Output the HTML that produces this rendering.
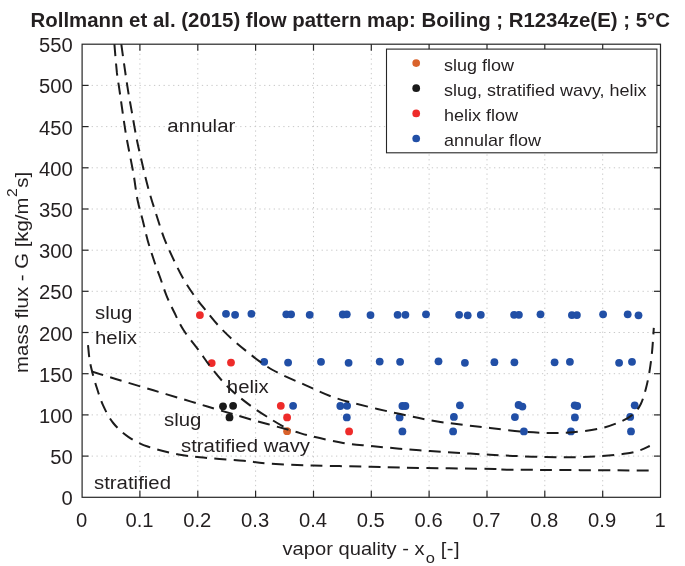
<!DOCTYPE html><html><head><meta charset="utf-8"><title>Rollmann flow pattern map</title>
<style>html,body{margin:0;padding:0;background:#fff}svg{display:block}text{font-family:"Liberation Sans",Arial,Helvetica,sans-serif;fill:#231f20}</style></head><body>
<svg width="685" height="566" viewBox="0 0 685 566">
<rect width="685" height="566" fill="#fff"/>
<g stroke="#c8c8c8" stroke-width="1" stroke-dasharray="1.3 3.49" fill="none">
<line x1="139.9" y1="44.2" x2="139.9" y2="497.3"/>
<line x1="197.8" y1="44.2" x2="197.8" y2="497.3"/>
<line x1="255.6" y1="44.2" x2="255.6" y2="497.3"/>
<line x1="313.5" y1="44.2" x2="313.5" y2="497.3"/>
<line x1="371.3" y1="44.2" x2="371.3" y2="497.3"/>
<line x1="429.1" y1="44.2" x2="429.1" y2="497.3"/>
<line x1="487.0" y1="44.2" x2="487.0" y2="497.3"/>
<line x1="544.8" y1="44.2" x2="544.8" y2="497.3"/>
<line x1="602.7" y1="44.2" x2="602.7" y2="497.3"/>
<line x1="82.1" y1="456.1" x2="660.5" y2="456.1"/>
<line x1="82.1" y1="414.9" x2="660.5" y2="414.9"/>
<line x1="82.1" y1="373.7" x2="660.5" y2="373.7"/>
<line x1="82.1" y1="332.5" x2="660.5" y2="332.5"/>
<line x1="82.1" y1="291.3" x2="660.5" y2="291.3"/>
<line x1="82.1" y1="250.2" x2="660.5" y2="250.2"/>
<line x1="82.1" y1="209.0" x2="660.5" y2="209.0"/>
<line x1="82.1" y1="167.8" x2="660.5" y2="167.8"/>
<line x1="82.1" y1="126.6" x2="660.5" y2="126.6"/>
<line x1="82.1" y1="85.4" x2="660.5" y2="85.4"/>
</g>
<g fill="#d9622b">
<circle cx="287.1" cy="431.2" r="3.9"/>
</g>
<g fill="#1a1a1a">
<circle cx="223.0" cy="406.3" r="3.9"/>
<circle cx="233.1" cy="405.8" r="3.9"/>
<circle cx="229.5" cy="417.4" r="3.9"/>
</g>
<g fill="#ee2b2a">
<circle cx="199.9" cy="315.1" r="3.9"/>
<circle cx="211.7" cy="363.1" r="3.9"/>
<circle cx="231.0" cy="362.6" r="3.9"/>
<circle cx="280.8" cy="405.8" r="3.9"/>
<circle cx="287.1" cy="417.4" r="3.9"/>
<circle cx="349.1" cy="431.4" r="3.9"/>
</g>
<g fill="#214fa6">
<circle cx="226.0" cy="313.8" r="3.9"/>
<circle cx="235.1" cy="314.8" r="3.9"/>
<circle cx="251.4" cy="313.8" r="3.9"/>
<circle cx="286.3" cy="314.3" r="3.9"/>
<circle cx="291.1" cy="314.3" r="3.9"/>
<circle cx="309.7" cy="314.8" r="3.9"/>
<circle cx="342.8" cy="314.5" r="3.9"/>
<circle cx="346.8" cy="314.3" r="3.9"/>
<circle cx="370.5" cy="315.1" r="3.9"/>
<circle cx="397.6" cy="314.8" r="3.9"/>
<circle cx="405.4" cy="314.8" r="3.9"/>
<circle cx="426.0" cy="314.3" r="3.9"/>
<circle cx="459.1" cy="314.8" r="3.9"/>
<circle cx="467.7" cy="315.3" r="3.9"/>
<circle cx="480.8" cy="314.8" r="3.9"/>
<circle cx="514.1" cy="314.8" r="3.9"/>
<circle cx="518.9" cy="314.8" r="3.9"/>
<circle cx="540.5" cy="314.3" r="3.9"/>
<circle cx="571.9" cy="315.1" r="3.9"/>
<circle cx="576.9" cy="315.1" r="3.9"/>
<circle cx="603.1" cy="314.3" r="3.9"/>
<circle cx="627.7" cy="314.3" r="3.9"/>
<circle cx="638.5" cy="315.3" r="3.9"/>
<circle cx="264.2" cy="361.8" r="3.9"/>
<circle cx="288.1" cy="362.6" r="3.9"/>
<circle cx="321.0" cy="361.8" r="3.9"/>
<circle cx="348.6" cy="362.8" r="3.9"/>
<circle cx="379.7" cy="361.6" r="3.9"/>
<circle cx="400.1" cy="361.8" r="3.9"/>
<circle cx="438.5" cy="361.3" r="3.9"/>
<circle cx="464.9" cy="362.8" r="3.9"/>
<circle cx="494.4" cy="362.2" r="3.9"/>
<circle cx="514.4" cy="362.3" r="3.9"/>
<circle cx="554.6" cy="362.3" r="3.9"/>
<circle cx="569.9" cy="361.8" r="3.9"/>
<circle cx="619.1" cy="362.8" r="3.9"/>
<circle cx="632.0" cy="361.8" r="3.9"/>
<circle cx="293.1" cy="405.8" r="3.9"/>
<circle cx="340.3" cy="406.0" r="3.9"/>
<circle cx="347.1" cy="405.8" r="3.9"/>
<circle cx="402.4" cy="406.0" r="3.9"/>
<circle cx="405.4" cy="406.0" r="3.9"/>
<circle cx="459.9" cy="405.3" r="3.9"/>
<circle cx="518.6" cy="405.0" r="3.9"/>
<circle cx="522.4" cy="406.6" r="3.9"/>
<circle cx="574.7" cy="405.3" r="3.9"/>
<circle cx="577.2" cy="406.0" r="3.9"/>
<circle cx="634.7" cy="405.3" r="3.9"/>
<circle cx="346.8" cy="417.4" r="3.9"/>
<circle cx="399.6" cy="417.4" r="3.9"/>
<circle cx="453.9" cy="416.9" r="3.9"/>
<circle cx="514.9" cy="417.1" r="3.9"/>
<circle cx="574.9" cy="417.4" r="3.9"/>
<circle cx="630.2" cy="416.9" r="3.9"/>
<circle cx="402.4" cy="431.4" r="3.9"/>
<circle cx="453.1" cy="431.4" r="3.9"/>
<circle cx="523.9" cy="431.4" r="3.9"/>
<circle cx="570.9" cy="431.4" r="3.9"/>
<circle cx="631.0" cy="431.4" r="3.9"/>
</g>
<g stroke="#1c1c1c" stroke-width="2" stroke-dasharray="12 7.3" fill="none">
<path d="M121.3 44.2 C121.8 48.1 123.5 59.9 124.6 67.6 C125.7 75.3 126.8 82.8 128.0 90.3 C129.2 97.8 130.5 104.5 132.0 112.9 C133.5 121.3 135.3 132.1 137.0 140.5 C138.7 148.9 140.7 157.1 142.1 163.1 C143.5 169.1 143.8 171.0 145.2 176.3 C146.5 181.6 148.3 188.6 150.2 195.1 C152.1 201.6 154.2 208.1 156.5 215.2 C158.8 222.3 161.3 230.7 164.0 237.8 C166.7 244.9 169.7 251.2 172.8 257.9 C176.0 264.6 179.3 271.7 182.9 278.0 C186.5 284.3 190.5 290.4 194.2 295.6 C197.9 300.8 200.3 303.7 205.0 309.4 C209.7 315.1 215.8 323.2 222.5 330.0 C229.2 336.8 236.7 343.4 245.1 350.1 C253.5 356.8 262.6 364.2 272.7 370.0 C282.8 375.8 295.0 380.5 305.4 385.1 C315.8 389.7 324.6 394.2 335.0 397.8 C345.4 401.4 356.8 403.9 367.7 406.6 C378.6 409.3 389.9 411.8 400.4 414.1 C410.9 416.4 420.4 418.6 430.5 420.4 C440.6 422.1 450.8 423.4 460.7 424.6 C470.6 425.9 479.7 426.7 490.0 427.9 C500.3 429.1 513.1 430.9 522.7 431.7 C532.3 432.5 539.4 432.8 547.8 432.9 C556.2 433.0 564.1 432.9 572.9 432.2 C581.7 431.4 592.6 430.2 600.6 428.4 C608.6 426.6 615.3 424.0 620.7 421.6 C626.1 419.2 629.9 417.0 633.2 414.1 C636.6 411.2 638.7 408.2 640.8 404.0 C642.9 399.8 644.3 394.4 645.8 389.0 C647.2 383.6 648.5 377.7 649.5 371.4 C650.5 365.1 651.4 358.6 652.1 351.3 C652.8 344.1 653.5 331.8 653.8 327.9"/>
<path d="M114.4 44.2 C114.8 49.0 116.1 65.0 116.9 72.7 C117.8 80.4 118.7 84.5 119.5 90.3 C120.3 96.1 121.0 100.7 122.0 107.8 C123.0 114.9 124.5 125.5 125.7 133.0 C127.0 140.6 128.1 145.9 129.5 153.1 C130.9 160.3 132.6 168.5 133.9 176.3 C135.2 184.2 136.1 192.9 137.6 200.2 C139.1 207.5 141.0 213.6 142.7 220.3 C144.4 227.0 145.8 233.7 147.7 240.4 C149.6 247.1 151.9 254.2 154.0 260.5 C156.1 266.8 158.2 272.1 160.3 278.0 C162.4 283.9 164.2 289.9 166.5 295.6 C168.8 301.3 171.3 306.3 174.1 312.0 C176.9 317.7 179.4 323.6 183.5 330.0 C187.6 336.4 194.0 343.8 198.6 350.1 C203.2 356.4 206.2 361.4 211.2 367.7 C216.2 374.0 222.3 381.5 228.8 387.8 C235.3 394.1 242.8 400.0 250.1 405.4 C257.4 410.8 266.0 416.1 272.7 420.3 C279.4 424.5 287.4 428.6 290.3 430.3"/>
<path d="M91.8 371.5 C95.8 372.8 105.4 375.9 115.7 379.0 C126.0 382.1 140.8 386.5 153.4 390.3 C166.0 394.1 180.2 398.3 191.1 401.6 C202.0 404.9 208.9 407.0 218.7 409.9 C228.5 412.8 238.2 415.8 250.1 419.2 C262.0 422.6 279.8 427.4 290.3 430.3 C300.8 433.2 304.1 434.5 312.9 436.6 C321.7 438.7 333.5 441.3 343.1 442.9 C352.7 444.5 361.2 445.0 370.7 446.0 C380.2 447.0 390.1 447.9 400.0 448.7 C409.9 449.5 420.0 450.3 430.0 451.0 C440.0 451.7 450.0 452.4 460.0 453.0 C470.0 453.6 481.2 454.3 490.0 454.8 C498.8 455.3 503.7 455.5 513.0 455.9 C522.3 456.3 535.2 456.8 545.7 457.0 C556.2 457.2 566.6 457.3 575.8 457.2 C585.0 457.1 592.5 456.8 600.9 456.2 C609.3 455.6 619.4 454.7 626.1 453.6 C632.8 452.6 637.2 451.2 641.1 449.9 C645.0 448.6 648.3 446.6 649.8 446.0"/>
<path d="M88.0 345.1 C88.3 347.2 88.7 353.4 89.3 357.6 C89.9 361.8 90.5 365.2 91.8 370.2 C93.0 375.2 94.9 381.9 96.8 387.8 C98.7 393.7 100.4 399.5 103.1 405.4 C105.8 411.3 109.0 417.8 113.2 423.0 C117.4 428.2 122.4 432.8 128.3 436.8 C134.2 440.8 140.0 443.9 148.4 446.8 C156.8 449.7 168.4 452.5 178.5 454.4 C188.6 456.3 197.8 457.1 208.7 458.1 C219.6 459.2 234.0 459.8 243.8 460.7 C253.6 461.6 256.2 462.7 267.7 463.5 C279.2 464.3 295.7 465.0 312.9 465.5 C330.1 466.0 355.2 466.3 370.7 466.7 C386.2 467.1 385.4 467.3 406.1 467.7 C426.8 468.1 477.1 468.7 494.9 469.0 C512.7 469.3 487.4 469.4 513.0 469.7 C538.6 469.9 626.2 470.4 648.8 470.5"/>
</g>
<g stroke="#262626" stroke-width="1.2" fill="none">
<rect x="82.1" y="44.2" width="578.4" height="453.1"/>
<line x1="139.9" y1="497.3" x2="139.9" y2="490.8"/>
<line x1="139.9" y1="44.2" x2="139.9" y2="50.7"/>
<line x1="197.8" y1="497.3" x2="197.8" y2="490.8"/>
<line x1="197.8" y1="44.2" x2="197.8" y2="50.7"/>
<line x1="255.6" y1="497.3" x2="255.6" y2="490.8"/>
<line x1="255.6" y1="44.2" x2="255.6" y2="50.7"/>
<line x1="313.5" y1="497.3" x2="313.5" y2="490.8"/>
<line x1="313.5" y1="44.2" x2="313.5" y2="50.7"/>
<line x1="371.3" y1="497.3" x2="371.3" y2="490.8"/>
<line x1="371.3" y1="44.2" x2="371.3" y2="50.7"/>
<line x1="429.1" y1="497.3" x2="429.1" y2="490.8"/>
<line x1="429.1" y1="44.2" x2="429.1" y2="50.7"/>
<line x1="487.0" y1="497.3" x2="487.0" y2="490.8"/>
<line x1="487.0" y1="44.2" x2="487.0" y2="50.7"/>
<line x1="544.8" y1="497.3" x2="544.8" y2="490.8"/>
<line x1="544.8" y1="44.2" x2="544.8" y2="50.7"/>
<line x1="602.7" y1="497.3" x2="602.7" y2="490.8"/>
<line x1="602.7" y1="44.2" x2="602.7" y2="50.7"/>
<line x1="82.1" y1="456.1" x2="88.6" y2="456.1"/>
<line x1="660.5" y1="456.1" x2="654.0" y2="456.1"/>
<line x1="82.1" y1="414.9" x2="88.6" y2="414.9"/>
<line x1="660.5" y1="414.9" x2="654.0" y2="414.9"/>
<line x1="82.1" y1="373.7" x2="88.6" y2="373.7"/>
<line x1="660.5" y1="373.7" x2="654.0" y2="373.7"/>
<line x1="82.1" y1="332.5" x2="88.6" y2="332.5"/>
<line x1="660.5" y1="332.5" x2="654.0" y2="332.5"/>
<line x1="82.1" y1="291.3" x2="88.6" y2="291.3"/>
<line x1="660.5" y1="291.3" x2="654.0" y2="291.3"/>
<line x1="82.1" y1="250.2" x2="88.6" y2="250.2"/>
<line x1="660.5" y1="250.2" x2="654.0" y2="250.2"/>
<line x1="82.1" y1="209.0" x2="88.6" y2="209.0"/>
<line x1="660.5" y1="209.0" x2="654.0" y2="209.0"/>
<line x1="82.1" y1="167.8" x2="88.6" y2="167.8"/>
<line x1="660.5" y1="167.8" x2="654.0" y2="167.8"/>
<line x1="82.1" y1="126.6" x2="88.6" y2="126.6"/>
<line x1="660.5" y1="126.6" x2="654.0" y2="126.6"/>
<line x1="82.1" y1="85.4" x2="88.6" y2="85.4"/>
<line x1="660.5" y1="85.4" x2="654.0" y2="85.4"/>
</g>
<text transform="translate(72.70 505.30) scale(1.036 1)" font-size="19.5" text-anchor="end">0</text>
<text transform="translate(72.70 464.11) scale(1.036 1)" font-size="19.5" text-anchor="end">50</text>
<text transform="translate(72.70 422.92) scale(1.036 1)" font-size="19.5" text-anchor="end">100</text>
<text transform="translate(72.70 381.73) scale(1.036 1)" font-size="19.5" text-anchor="end">150</text>
<text transform="translate(72.70 340.54) scale(1.036 1)" font-size="19.5" text-anchor="end">200</text>
<text transform="translate(72.70 299.35) scale(1.036 1)" font-size="19.5" text-anchor="end">250</text>
<text transform="translate(72.70 258.15) scale(1.036 1)" font-size="19.5" text-anchor="end">300</text>
<text transform="translate(72.70 216.96) scale(1.036 1)" font-size="19.5" text-anchor="end">350</text>
<text transform="translate(72.70 175.77) scale(1.036 1)" font-size="19.5" text-anchor="end">400</text>
<text transform="translate(72.70 134.58) scale(1.036 1)" font-size="19.5" text-anchor="end">450</text>
<text transform="translate(72.70 93.39) scale(1.036 1)" font-size="19.5" text-anchor="end">500</text>
<text transform="translate(72.70 52.20) scale(1.036 1)" font-size="19.5" text-anchor="end">550</text>
<text transform="translate(81.60 526.50) scale(1.036 1)" font-size="19.5" text-anchor="middle">0</text>
<text transform="translate(139.44 526.50) scale(1.036 1)" font-size="19.5" text-anchor="middle">0.1</text>
<text transform="translate(197.28 526.50) scale(1.036 1)" font-size="19.5" text-anchor="middle">0.2</text>
<text transform="translate(255.12 526.50) scale(1.036 1)" font-size="19.5" text-anchor="middle">0.3</text>
<text transform="translate(312.96 526.50) scale(1.036 1)" font-size="19.5" text-anchor="middle">0.4</text>
<text transform="translate(370.80 526.50) scale(1.036 1)" font-size="19.5" text-anchor="middle">0.5</text>
<text transform="translate(428.64 526.50) scale(1.036 1)" font-size="19.5" text-anchor="middle">0.6</text>
<text transform="translate(486.48 526.50) scale(1.036 1)" font-size="19.5" text-anchor="middle">0.7</text>
<text transform="translate(544.32 526.50) scale(1.036 1)" font-size="19.5" text-anchor="middle">0.8</text>
<text transform="translate(602.16 526.50) scale(1.036 1)" font-size="19.5" text-anchor="middle">0.9</text>
<text transform="translate(660.00 526.50) scale(1.036 1)" font-size="19.5" text-anchor="middle">1</text>
<text transform="translate(350.20 26.50) scale(1.044 1)" font-size="19.55" text-anchor="middle" font-weight="bold">Rollmann et al. (2015) flow pattern map: Boiling ; R1234ze(E) ; 5°C</text>
<text transform="translate(371.40 554.60) scale(1.066 1)" font-size="18.9" text-anchor="middle">vapor quality - x<tspan font-size="15.5" dx="1" dy="8.3">o</tspan><tspan dx="5.5" dy="-8.3" letter-spacing="0.5">[-]</tspan></text>
<text transform="translate(27.70 272.40) rotate(-90) scale(1.078 1)" font-size="18.9" text-anchor="middle">mass flux - G [kg/m<tspan font-size="14.5" dx="0.5" dy="-11">2</tspan><tspan dx="0.5" dy="11">s]</tspan></text>
<text transform="translate(167.30 131.50) scale(1.084 1)" font-size="18.8">annular</text>
<text transform="translate(95.00 318.60) scale(1.084 1)" font-size="18.8">slug</text>
<text transform="translate(95.00 344.10) scale(1.084 1)" font-size="18.8">helix</text>
<text transform="translate(226.80 393.10) scale(1.084 1)" font-size="18.8">helix</text>
<text transform="translate(164.00 425.50) scale(1.084 1)" font-size="18.8">slug</text>
<text transform="translate(181.00 451.50) scale(1.084 1)" font-size="18.8">stratified wavy</text>
<text transform="translate(94.00 489.20) scale(1.084 1)" font-size="18.8">stratified</text>
<rect x="386.5" y="49.1" width="270.4" height="103.7" fill="#fff" stroke="#262626" stroke-width="1.1"/>
<circle cx="416.2" cy="63.1" r="3.85" fill="#d9622b"/>
<text transform="translate(443.90 70.70) scale(1.075 1)" font-size="16.75">slug flow</text>
<circle cx="416.2" cy="88.2" r="3.85" fill="#1a1a1a"/>
<text transform="translate(443.90 95.83) scale(1.075 1)" font-size="16.75">slug, stratified wavy, helix</text>
<circle cx="416.2" cy="113.4" r="3.85" fill="#ee2b2a"/>
<text transform="translate(443.90 120.96) scale(1.075 1)" font-size="16.75">helix flow</text>
<circle cx="416.2" cy="138.5" r="3.85" fill="#214fa6"/>
<text transform="translate(443.90 146.09) scale(1.075 1)" font-size="16.75">annular flow</text>
</svg></body></html>
